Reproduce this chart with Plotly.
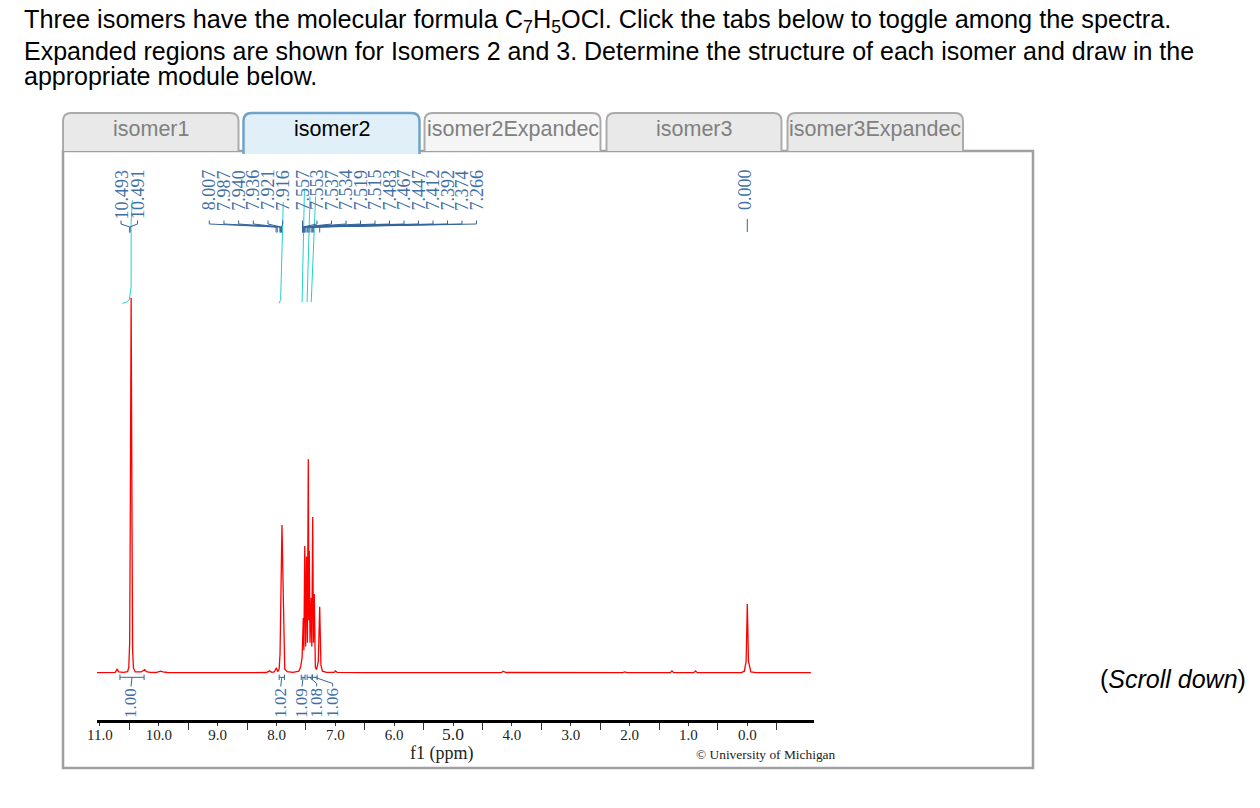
import plotly.graph_objects as go

W, H = 1260, 808
PPM_PX = 58.85
ZERO_PX = 747.3
BASE_PY = 672.7
UNIT_PX = 3.75

# spectrum: ppm and % of tallest peak
spec_ppm = [11.05, 10.80, 10.74, 10.71, 10.68, 10.60, 10.55, 10.53, 10.51, 10.495, 10.485, 10.47, 10.455, 10.445,
            10.43, 10.40, 10.30, 10.27, 10.24, 10.21, 10.15, 10.05, 10.00, 9.97, 9.93, 9.85, 9.00, 8.30, 8.17,
            8.12, 8.08, 8.04, 8.00, 7.98, 7.955, 7.94, 7.925, 7.907, 7.89, 7.875, 7.86, 7.82, 7.72, 7.62, 7.59,
            7.565, 7.55, 7.545, 7.535, 7.52, 7.505, 7.49, 7.475, 7.46, 7.45, 7.443, 7.43, 7.41, 7.40, 7.385,
            7.372, 7.358, 7.34, 7.32, 7.29, 7.266, 7.245, 7.22, 7.15, 7.02, 7.00, 6.97, 6.50, 4.18, 4.15, 4.10,
            2.12, 2.08, 2.04, 1.31, 1.28, 1.25, 0.91, 0.88, 0.85, 0.10, 0.05, 0.02, 0.00, -0.02, -0.06, -0.15, -1.08]
spec_int = [0, 0, 0.1, 0.9, 0.2, 0.1, 0.2, 0.3, 1.5, 8, 40, 100, 40, 6,
            1.2, 0.2, 0.2, 0.5, 0.8, 0.3, 0.1, 0.05, 0.25, 0.4, 0.2, 0.05, 0, 0, 0.05,
            0.5, 0.1, 0.2, 1.3, 0.3, 1, 5, 25, 39.4, 25, 5, 1, 0.3, 0.1, 0.4, 1.5,
            4, 14, 14.6, 6, 33.8, 7, 31, 8, 56.9, 14, 32.5, 8, 20, 7, 41.5,
            8, 21, 1.5, 0.8, 3, 17.6, 2, 0.4, 0.1, 0.1, 0.5, 0.1, 0, 0.02, 0.4, 0.05,
            0, 0.2, 0, 0, 0.5, 0, 0, 0.5, 0, 0, 0.4, 3, 18.3, 3, 0.2, 0, 0]

# integral curves (cyan)
int1_ppm = [10.62, 10.55, 10.50, 10.47, 10.47, 10.45]
int1_y = [98.5, 98.8, 99.5, 103, 120, 126]
int2_ppm = [7.955, 7.93, 7.92, 7.90, 7.885]
int2_y = [98.5, 99.5, 105, 118, 125.5]
int3_ppm = [7.565, 7.525]
int3_y = [98.8, 129]
int4_ppm = [7.480, 7.43]
int4_y = [98.8, 127]
int5_ppm = [7.410, 7.335]
int5_y = [98.8, 127]

peak_labels = ["10.493", "10.491"]
peak_labels2 = ["8.007", "7.987", "7.940", "7.936", "7.921", "7.916"]
peak_labels3 = ["7.557", "7.553", "7.537", "7.534", "7.519", "7.515", "7.483", "7.467", "7.447",
                "7.412", "7.392", "7.374", "7.266"]

integral_labels = ["1.00", "1.02", "1.09", "1.08", "1.06"]
integral_from = [10.66, 7.955, 7.58, 7.48, 7.39]
integral_to = [10.25, 7.865, 7.515, 7.395, 7.31]

tick_vals = [11, 10, 9, 8, 7, 6, 5, 4, 3, 2, 1, 0]
tick_text = ["11.0", "10.0", "9.0", "8.0", "7.0", "6.0",
             "<span style='font-size:17.5px'>5.0</span>", "4.0", "3.0", "2.0", "1.0", "0.0"]
minor_vals = [10.5, 9.5, 8.5, 7.5, 6.5, 5.5, 4.5, 3.5, 2.5, 1.5, 0.5, -0.5]

tab_names = ["isomer1", "isomer2", "isomer2Expandec", "isomer3", "isomer3Expandec"]

BLUE = "#3f70a6"
LINE_BLUE = "#34659a"
CYAN = "#22d0d2"
SERIF = "Liberation Serif"
SANS = "Liberation Sans"


def px(x):
    return x / W


def py(y):
    return 1 - y / H


def to_ppm(x):
    return (ZERO_PX - x) / PPM_PX


def to_int(y):
    return (BASE_PY - y) / UNIT_PX


fig = go.Figure()

fig.add_trace(go.Scatter(x=spec_ppm, y=spec_int, mode="lines", line=dict(color="#ff0000", width=1.3), hoverinfo="skip"))

for xs, ys in [(int1_ppm, int1_y), (int2_ppm, int2_y), (int3_ppm, int3_y), (int4_ppm, int4_y), (int5_ppm, int5_y)]:
    fig.add_trace(go.Scatter(x=xs, y=ys, mode="lines", line=dict(color=CYAN, width=1), hoverinfo="skip"))

annos = []


def label(text, x, y, size, color="#000000", font=SANS, angle=0, xanchor="center", yanchor="middle"):
    annos.append(dict(text=text, xref="paper", yref="paper", x=px(x), y=py(y), showarrow=False, textangle=angle,
                      xanchor=xanchor, yanchor=yanchor, font=dict(family=font, size=size, color=color),
                      borderpad=0, borderwidth=0))


# peak label brackets
def peak_group(names, first_px, step):
    xs, ys = [], []
    for i, name in enumerate(names):
        lx = first_px + i * step
        label(name, lx, 169.5, 18, BLUE, SERIF, -90, yanchor="top")
        p = float(name)
        xs += [to_ppm(lx), to_ppm(lx), p, p, None]
        ys += [to_int(220.5), to_int(224), to_int(227), to_int(232.5), None]
    fig.add_trace(go.Scatter(x=xs, y=ys, mode="lines", line=dict(color=LINE_BLUE, width=1), hoverinfo="skip"))


peak_group(peak_labels, 121, 16.5)
peak_group(peak_labels2, 209.3, 14.68)
peak_group(peak_labels3, 302.5, 14.5)

label("0.000", 745, 169.5, 18, BLUE, SERIF, -90, yanchor="top")
fig.add_trace(go.Scatter(x=[0, 0], y=[to_int(219), to_int(232)], mode="lines",
                         line=dict(color=LINE_BLUE, width=1), hoverinfo="skip"))

# integral brackets
integral_label_px = [131, 280.7, 302, 316.7, 332.7]
for name, a, b, lx in zip(integral_labels, integral_from, integral_to, integral_label_px):
    mid = (a + b) / 2
    cap_y0, cap_y1, bar = to_int(674.5), to_int(680), to_int(677.3)
    xs = [a, a, None, b, b, None, a, b, None, mid, to_ppm(lx), to_ppm(lx)]
    ys = [cap_y0, cap_y1, None, cap_y0, cap_y1, None, bar, bar, None, bar, to_int(683.5), to_int(686.5)]
    fig.add_trace(go.Scatter(x=xs, y=ys, mode="lines", line=dict(color=LINE_BLUE, width=1), hoverinfo="skip"))
    label(name, lx - 1, 688, 17, BLUE, SERIF, -90, yanchor="top")

# question text
label("Three isomers have the molecular formula C<sub>7</sub>H<sub>5</sub>OCl. Click the tabs below to toggle among the spectra.",
      24, 21, 25.3, xanchor="left")
label("Expanded regions are shown for Isomers 2 and 3. Determine the structure of each isomer and draw in the",
      24, 51, 25, xanchor="left")
label("appropriate module below.", 24, 76, 25, xanchor="left")
label("(<i>Scroll down</i>)", 1100, 679, 25, xanchor="left")

label("f1 (ppm)", 442, 753, 18, "#222222", SERIF)
label("© University of Michigan", 766, 754.5, 13.4, "#222222", SERIF)

# panel and tabs
shapes = [dict(type="rect", xref="paper", yref="paper", x0=px(63), x1=px(1033), y0=py(151), y1=py(768),
               line=dict(color="#a0a0a0", width=2.5), fillcolor="#ffffff", layer="below")]


def tab_path(x0, x1, top, bottom, r=8):
    return (f"M {px(x0)},{py(bottom)} L {px(x0)},{py(top + r)} Q {px(x0)},{py(top)} {px(x0 + r)},{py(top)} "
            f"L {px(x1 - r)},{py(top)} Q {px(x1)},{py(top)} {px(x1)},{py(top + r)} L {px(x1)},{py(bottom)}")


tab_x0 = [63, 243.5, 424.5, 606.5, 787.5]
tab_x1 = [238.5, 419.5, 600.5, 781.5, 963]
tab_fill = ["#e9e9e9", "#e1f0f8", "#f5f5f5", "#e9e9e9", "#e9e9e9"]
tab_line = ["#ababab", "#6fa3c9", "#ababab", "#ababab", "#ababab"]

for i, name in enumerate(tab_names):
    active = name == "isomer2"
    shapes.append(dict(type="path", xref="paper", yref="paper",
                       path=tab_path(tab_x0[i], tab_x1[i], 113, 154 if active else 151),
                       line=dict(color=tab_line[i], width=2.5 if active else 2), fillcolor=tab_fill[i], layer="below"))
    label(name, (tab_x0[i] + tab_x1[i]) / 2, 129, 21.5, "#000000" if active else "#808080")

fig.update_layout(
    width=W, height=H, autosize=False, showlegend=False,
    margin=dict(l=0, r=0, t=0, b=0, pad=0, autoexpand=False),
    paper_bgcolor="#ffffff", plot_bgcolor="rgba(0,0,0,0)",
    shapes=shapes, annotations=annos,
    xaxis=dict(domain=[px(97), px(814)], range=[to_ppm(97), to_ppm(814)], anchor="free", position=py(720.7),
               showgrid=False, zeroline=False, showline=True, linecolor="#000000", linewidth=3,
               ticks="outside", ticklen=3, tickwidth=1, tickcolor="#333333",
               tickmode="array", tickvals=tick_vals, ticktext=tick_text, tickangle=0, ticklabelstandoff=-4,
               minor=dict(tickmode="array", tickvals=minor_vals, ticks="outside", ticklen=7, tickwidth=1,
                          tickcolor="#333333", showgrid=False),
               tickfont=dict(family=SERIF, size=15, color="#222222")),
    yaxis=dict(domain=[0, 1], range=[to_int(H), to_int(0)], visible=False, showgrid=False, zeroline=False),
)

fig.write_html("out.html", config=dict(displayModeBar=False),
               post_script="document.body.style.margin='0';document.body.style.overflow='hidden';")
